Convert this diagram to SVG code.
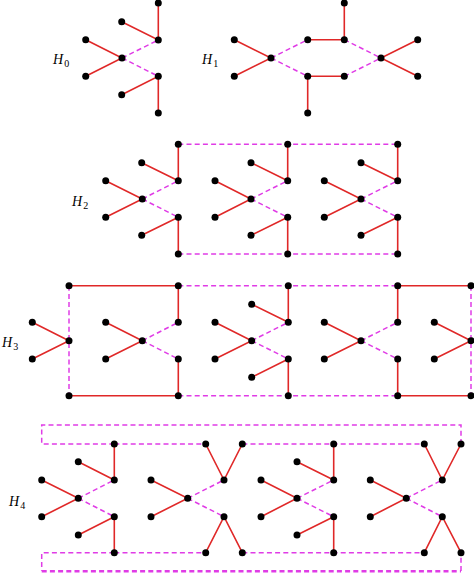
<svg xmlns="http://www.w3.org/2000/svg" width="474" height="573" viewBox="0 0 474 573">
<style>
.r{stroke:#e02828;stroke-width:1.6;fill:none}
.m{stroke:#e03ce6;stroke-width:1.5;fill:none;stroke-dasharray:5 3.2}
.n{fill:#000}
.lb{font-family:"Liberation Serif",serif;font-style:italic;font-size:14px;fill:#000}
.sb{font-family:"Liberation Serif",serif;font-size:10px;fill:#000}
</style>
<rect width="474" height="573" fill="#fff"/>
<g id="connectors">
<!-- H0 -->
<path class="r" d="M85.7,39.7L122,58L85.7,76.3M121.7,21.7L158.3,40L158.3,3M121.7,94.7L158.3,76.3L158.3,113"/>
<path class="m" d="M122,58L158.3,40M122,58L158.3,76.3"/>
<!-- H1 -->
<path class="r" d="M234.3,39.7L271,58L234.3,76.3M307.7,39.7L344.3,39.7L344.3,3M307.7,113L307.7,76.3L344.3,76.3M417.7,39.7L381,58L417.7,76.3"/>
<path class="m" d="M271,58L307.7,39.7M271,58L307.7,76.3M344.3,39.7L381,58M344.3,76.3L381,58"/>
<!-- H2 -->
<path class="m" d="M178.3,144.3H397.7M178.3,254H397.7"/>
<path class="r" d="M178.3,144.3V180.7M178.3,217.3V254M287.7,144.3V180.7M287.7,217.3V254M397.7,144.3V180.7M397.7,217.3V254"/>
<path class="r" d="M105.7,180.7L142.3,199L105.7,217.3M141.7,162.7L178.3,180.7M141.7,235.3L178.3,217.3"/>
<path class="m" d="M142.3,199L178.3,180.7M142.3,199L178.3,217.3"/>
<path class="r" d="M215,180.7L251,199L215,217.3M251,162.7L287.7,180.7M251,235.3L287.7,217.3"/>
<path class="m" d="M251,199L287.7,180.7M251,199L287.7,217.3"/>
<path class="r" d="M324.3,180.7L361,199L324.3,217.3M361,162.7L397.7,180.7M361,235.3L397.7,217.3"/>
<path class="m" d="M361,199L397.7,180.7M361,199L397.7,217.3"/>
<!-- H3 -->
<path class="r" d="M32.3,322.3L69,340.7L32.3,359"/>
<path class="m" d="M69,285.7V395.7"/>
<path class="r" d="M69,285.7H178.3V322.3M178.3,359V395.7H69"/>
<path class="r" d="M105.7,322.3L142.3,340.7L105.7,359"/>
<path class="m" d="M142.3,340.7L178.3,322.3M142.3,340.7L178.3,359"/>
<path class="m" d="M178.3,285.7H397.7M178.3,395.7H397.7"/>
<path class="r" d="M215,322.3L251.7,340.7L215,359M251.7,304.3L288.3,322.3M251.7,377.3L288.3,359M288.3,285.7V322.3M288.3,359V395.7"/>
<path class="m" d="M251.7,340.7L288.3,322.3M251.7,340.7L288.3,359"/>
<path class="r" d="M324.3,322.3L361,340.7L324.3,359"/>
<path class="m" d="M361,340.7L397.7,322.3M361,340.7L397.7,359"/>
<path class="r" d="M397.7,322.3V285.7H471M397.7,359V395.7H471"/>
<path class="r" d="M434.3,322.3L471,340.7L434.3,359"/>
<path class="m" d="M471,285.7V395.7"/>
<!-- H4 -->
<path class="m" d="M114.3,444H41.7V425H461V444M114.3,444H205.7M242.3,444H424.3"/>
<path class="m" d="M114.3,552.7H41.7V571M461,571V552.7M114.3,552.7H205.7M242.3,552.7H424.3"/>
<path class="m" style="stroke-width:2.6" d="M41.7,571.3H461"/>
<path class="r" d="M41.7,480L78.3,498.3L41.7,516.7M78.3,461.7L114.3,480M78.3,535L114.3,516.7M114.3,444V480M114.3,516.7V552.7"/>
<path class="m" d="M78.3,498.3L114.3,480M78.3,498.3L114.3,516.7"/>
<path class="r" d="M151,480L187.7,498.3L151,516.7M205.7,444L224,480L242.3,444M205.7,552.7L224,516.7L242.3,552.7"/>
<path class="m" d="M187.7,498.3L224,480M187.7,498.3L224,516.7"/>
<path class="r" d="M261,480L297,498.3L261,516.7M297,461.7L333.7,480M297,535L333.7,516.7M333.7,444V480M333.7,516.7V552.7"/>
<path class="m" d="M297,498.3L333.7,480M297,498.3L333.7,516.7"/>
<path class="r" d="M370.3,480L406.3,498.3L370.3,516.7M424.3,444L442.3,480L461,444M424.3,552.7L442.3,516.7L461,552.7"/>
<path class="m" d="M406.3,498.3L442.3,480M406.3,498.3L442.3,516.7"/>
</g>
<g id="labels">
<text class="lb" x="53" y="64">H<tspan class="sb" dx="1" dy="3" font-style="normal">0</tspan></text>
<text class="lb" x="202" y="64">H<tspan class="sb" dx="1" dy="3" font-style="normal">1</tspan></text>
<text class="lb" x="72" y="206">H<tspan class="sb" dx="1" dy="3" font-style="normal">2</tspan></text>
<text class="lb" x="2" y="347">H<tspan class="sb" dx="1" dy="3" font-style="normal">3</tspan></text>
<text class="lb" x="9" y="506">H<tspan class="sb" dx="1" dy="3" font-style="normal">4</tspan></text>
</g>
<g id="nodes">
<g id="h0a"><circle class="n" cx="158.3" cy="3" r="3.5"/></g>
<g id="h0b"><circle class="n" cx="121.7" cy="21.7" r="3.5"/></g>
<g id="h0c"><circle class="n" cx="158.3" cy="40" r="3.5"/></g>
<g id="h0d"><circle class="n" cx="85.7" cy="39.7" r="3.5"/></g>
<g id="h0e"><circle class="n" cx="122" cy="58" r="3.5"/></g>
<g id="h0f"><circle class="n" cx="85.7" cy="76.3" r="3.5"/></g>
<g id="h0g"><circle class="n" cx="158.3" cy="76.3" r="3.5"/></g>
<g id="h0h"><circle class="n" cx="121.7" cy="94.7" r="3.5"/></g>
<g id="h0i"><circle class="n" cx="158.3" cy="113" r="3.5"/></g>
<g id="h1a"><circle class="n" cx="234.3" cy="39.7" r="3.5"/></g>
<g id="h1b"><circle class="n" cx="234.3" cy="76.3" r="3.5"/></g>
<g id="h1c"><circle class="n" cx="271" cy="58" r="3.5"/></g>
<g id="h1d"><circle class="n" cx="307.7" cy="39.7" r="3.5"/></g>
<g id="h1e"><circle class="n" cx="344.3" cy="39.7" r="3.5"/></g>
<g id="h1f"><circle class="n" cx="344.3" cy="3" r="3.5"/></g>
<g id="h1g"><circle class="n" cx="307.7" cy="76.3" r="3.5"/></g>
<g id="h1h"><circle class="n" cx="344.3" cy="76.3" r="3.5"/></g>
<g id="h1i"><circle class="n" cx="307.7" cy="113" r="3.5"/></g>
<g id="h1j"><circle class="n" cx="381" cy="58" r="3.5"/></g>
<g id="h1k"><circle class="n" cx="417.7" cy="39.7" r="3.5"/></g>
<g id="h1l"><circle class="n" cx="417.7" cy="76.3" r="3.5"/></g>
<g id="h2a"><circle class="n" cx="105.7" cy="180.7" r="3.5"/></g>
<g id="h2b"><circle class="n" cx="105.7" cy="217.3" r="3.5"/></g>
<g id="h2c"><circle class="n" cx="142.3" cy="199" r="3.5"/></g>
<g id="h2d"><circle class="n" cx="141.7" cy="162.7" r="3.5"/></g>
<g id="h2e"><circle class="n" cx="141.7" cy="235.3" r="3.5"/></g>
<g id="h2f"><circle class="n" cx="178.3" cy="144.3" r="3.5"/></g>
<g id="h2g"><circle class="n" cx="178.3" cy="180.7" r="3.5"/></g>
<g id="h2h"><circle class="n" cx="178.3" cy="217.3" r="3.5"/></g>
<g id="h2i"><circle class="n" cx="178.3" cy="254" r="3.5"/></g>
<g id="h2j"><circle class="n" cx="215" cy="180.7" r="3.5"/></g>
<g id="h2k"><circle class="n" cx="215" cy="217.3" r="3.5"/></g>
<g id="h2l"><circle class="n" cx="251" cy="199" r="3.5"/></g>
<g id="h2m"><circle class="n" cx="251" cy="162.7" r="3.5"/></g>
<g id="h2n"><circle class="n" cx="251" cy="235.3" r="3.5"/></g>
<g id="h2o"><circle class="n" cx="287.7" cy="144.3" r="3.5"/></g>
<g id="h2p"><circle class="n" cx="287.7" cy="180.7" r="3.5"/></g>
<g id="h2q"><circle class="n" cx="287.7" cy="217.3" r="3.5"/></g>
<g id="h2r"><circle class="n" cx="287.7" cy="254" r="3.5"/></g>
<g id="h2s"><circle class="n" cx="324.3" cy="180.7" r="3.5"/></g>
<g id="h2t"><circle class="n" cx="324.3" cy="217.3" r="3.5"/></g>
<g id="h2u"><circle class="n" cx="361" cy="199" r="3.5"/></g>
<g id="h2v"><circle class="n" cx="361" cy="162.7" r="3.5"/></g>
<g id="h2w"><circle class="n" cx="361" cy="235.3" r="3.5"/></g>
<g id="h2x"><circle class="n" cx="397.7" cy="144.3" r="3.5"/></g>
<g id="h2y"><circle class="n" cx="397.7" cy="180.7" r="3.5"/></g>
<g id="h2z"><circle class="n" cx="397.7" cy="217.3" r="3.5"/></g>
<g id="h2za"><circle class="n" cx="397.7" cy="254" r="3.5"/></g>
<g id="h3a"><circle class="n" cx="32.3" cy="322.3" r="3.5"/></g>
<g id="h3b"><circle class="n" cx="32.3" cy="359" r="3.5"/></g>
<g id="h3c"><circle class="n" cx="69" cy="285.7" r="3.5"/></g>
<g id="h3d"><circle class="n" cx="69" cy="340.7" r="3.5"/></g>
<g id="h3e"><circle class="n" cx="69" cy="395.7" r="3.5"/></g>
<g id="h3f"><circle class="n" cx="105.7" cy="322.3" r="3.5"/></g>
<g id="h3g"><circle class="n" cx="105.7" cy="359" r="3.5"/></g>
<g id="h3h"><circle class="n" cx="142.3" cy="340.7" r="3.5"/></g>
<g id="h3i"><circle class="n" cx="178.3" cy="285.7" r="3.5"/></g>
<g id="h3j"><circle class="n" cx="178.3" cy="322.3" r="3.5"/></g>
<g id="h3k"><circle class="n" cx="178.3" cy="359" r="3.5"/></g>
<g id="h3l"><circle class="n" cx="178.3" cy="395.7" r="3.5"/></g>
<g id="h3m"><circle class="n" cx="215" cy="322.3" r="3.5"/></g>
<g id="h3n"><circle class="n" cx="215" cy="359" r="3.5"/></g>
<g id="h3o"><circle class="n" cx="251.7" cy="304.3" r="3.5"/></g>
<g id="h3p"><circle class="n" cx="251.7" cy="340.7" r="3.5"/></g>
<g id="h3q"><circle class="n" cx="251.7" cy="377.3" r="3.5"/></g>
<g id="h3r"><circle class="n" cx="288.3" cy="285.7" r="3.5"/></g>
<g id="h3s"><circle class="n" cx="288.3" cy="322.3" r="3.5"/></g>
<g id="h3t"><circle class="n" cx="288.3" cy="359" r="3.5"/></g>
<g id="h3u"><circle class="n" cx="288.3" cy="395.7" r="3.5"/></g>
<g id="h3v"><circle class="n" cx="324.3" cy="322.3" r="3.5"/></g>
<g id="h3w"><circle class="n" cx="324.3" cy="359" r="3.5"/></g>
<g id="h3x"><circle class="n" cx="361" cy="340.7" r="3.5"/></g>
<g id="h3y"><circle class="n" cx="397.7" cy="285.7" r="3.5"/></g>
<g id="h3z"><circle class="n" cx="397.7" cy="322.3" r="3.5"/></g>
<g id="h3za"><circle class="n" cx="397.7" cy="359" r="3.5"/></g>
<g id="h3zb"><circle class="n" cx="397.7" cy="395.7" r="3.5"/></g>
<g id="h3zc"><circle class="n" cx="434.3" cy="322.3" r="3.5"/></g>
<g id="h3zd"><circle class="n" cx="434.3" cy="359" r="3.5"/></g>
<g id="h3ze"><circle class="n" cx="471" cy="285.7" r="3.5"/></g>
<g id="h3zf"><circle class="n" cx="471" cy="340.7" r="3.5"/></g>
<g id="h3zg"><circle class="n" cx="471" cy="395.7" r="3.5"/></g>
<g id="h4a"><circle class="n" cx="41.7" cy="480" r="3.5"/></g>
<g id="h4b"><circle class="n" cx="41.7" cy="516.7" r="3.5"/></g>
<g id="h4c"><circle class="n" cx="78.3" cy="461.7" r="3.5"/></g>
<g id="h4d"><circle class="n" cx="78.3" cy="498.3" r="3.5"/></g>
<g id="h4e"><circle class="n" cx="78.3" cy="535" r="3.5"/></g>
<g id="h4f"><circle class="n" cx="114.3" cy="444" r="3.5"/></g>
<g id="h4g"><circle class="n" cx="114.3" cy="480" r="3.5"/></g>
<g id="h4h"><circle class="n" cx="114.3" cy="516.7" r="3.5"/></g>
<g id="h4i"><circle class="n" cx="114.3" cy="552.7" r="3.5"/></g>
<g id="h4j"><circle class="n" cx="151" cy="480" r="3.5"/></g>
<g id="h4k"><circle class="n" cx="151" cy="516.7" r="3.5"/></g>
<g id="h4l"><circle class="n" cx="187.7" cy="498.3" r="3.5"/></g>
<g id="h4m"><circle class="n" cx="205.7" cy="444" r="3.5"/></g>
<g id="h4n"><circle class="n" cx="224" cy="480" r="3.5"/></g>
<g id="h4o"><circle class="n" cx="242.3" cy="444" r="3.5"/></g>
<g id="h4p"><circle class="n" cx="224" cy="516.7" r="3.5"/></g>
<g id="h4q"><circle class="n" cx="205.7" cy="552.7" r="3.5"/></g>
<g id="h4r"><circle class="n" cx="242.3" cy="552.7" r="3.5"/></g>
<g id="h4s"><circle class="n" cx="261" cy="480" r="3.5"/></g>
<g id="h4t"><circle class="n" cx="261" cy="516.7" r="3.5"/></g>
<g id="h4u"><circle class="n" cx="297" cy="461.7" r="3.5"/></g>
<g id="h4v"><circle class="n" cx="297" cy="498.3" r="3.5"/></g>
<g id="h4w"><circle class="n" cx="297" cy="535" r="3.5"/></g>
<g id="h4x"><circle class="n" cx="333.7" cy="444" r="3.5"/></g>
<g id="h4y"><circle class="n" cx="333.7" cy="480" r="3.5"/></g>
<g id="h4z"><circle class="n" cx="333.7" cy="516.7" r="3.5"/></g>
<g id="h4za"><circle class="n" cx="333.7" cy="552.7" r="3.5"/></g>
<g id="h4zb"><circle class="n" cx="370.3" cy="480" r="3.5"/></g>
<g id="h4zc"><circle class="n" cx="370.3" cy="516.7" r="3.5"/></g>
<g id="h4zd"><circle class="n" cx="406.3" cy="498.3" r="3.5"/></g>
<g id="h4ze"><circle class="n" cx="424.3" cy="444" r="3.5"/></g>
<g id="h4zf"><circle class="n" cx="442.3" cy="480" r="3.5"/></g>
<g id="h4zg"><circle class="n" cx="461" cy="444" r="3.5"/></g>
<g id="h4zh"><circle class="n" cx="442.3" cy="516.7" r="3.5"/></g>
<g id="h4zi"><circle class="n" cx="424.3" cy="552.7" r="3.5"/></g>
<g id="h4zj"><circle class="n" cx="461" cy="552.7" r="3.5"/></g>
</g>
</svg>
